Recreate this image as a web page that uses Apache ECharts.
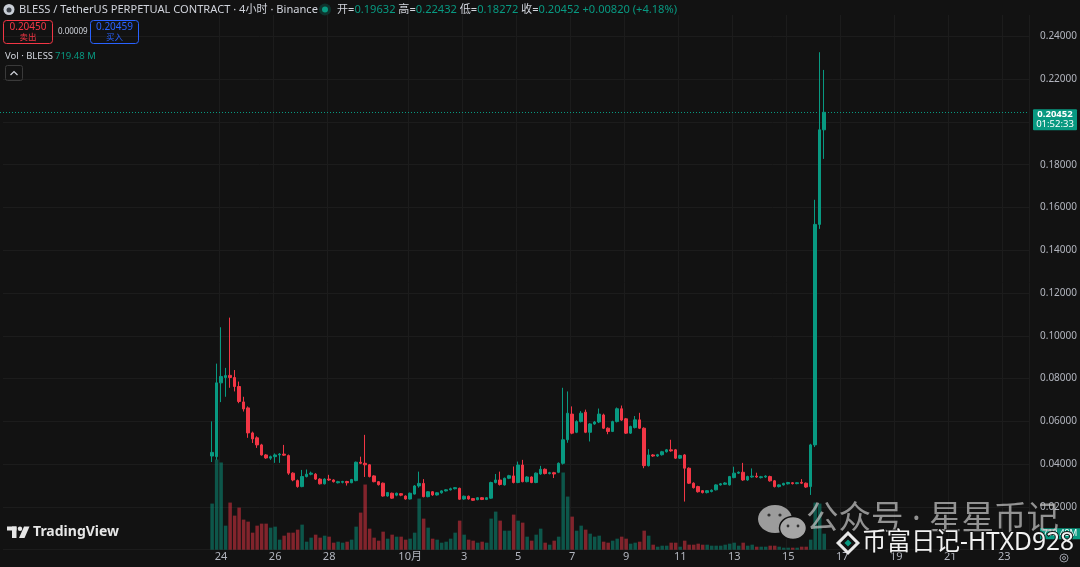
<!DOCTYPE html>
<html>
<head>
<meta charset="utf-8">
<title>BLESS / TetherUS 4小时</title>
<script src="https://cdn.jsdelivr.net/npm/echarts@6/dist/echarts.min.js"></script>
<style>
  html, body { margin: 0; padding: 0; background: #121212; }
  #chart { width: 1080px; height: 567px; }
</style>
</head>
<body>
<div id="chart"></div>
<script>
// BLESS/USDT 永续 4小时 K线，第一根 09-23 16:00
const firstBar = '09-23 16:00'

const opens = [
  0.0438, 0.0435, 0.0780, 0.0805, 0.0815, 0.0805, 0.0763, 0.0691, 0.0663, 0.0546,
  0.0523, 0.0490, 0.0443, 0.0428, 0.0435, 0.0443, 0.0447, 0.0440, 0.0358, 0.0323,
  0.0295, 0.0342, 0.0353, 0.0353, 0.0330, 0.0308, 0.0330, 0.0326, 0.0313, 0.0315,
  0.0319, 0.0313, 0.0323, 0.0409, 0.0404, 0.0397, 0.0345, 0.0318, 0.0311, 0.0251,
  0.0264, 0.0255, 0.0262, 0.0251, 0.0237, 0.0260, 0.0298, 0.0310, 0.0248, 0.0271,
  0.0256, 0.0266, 0.0275, 0.0280, 0.0285, 0.0287, 0.0237, 0.0250, 0.0239, 0.0234,
  0.0243, 0.0235, 0.0241, 0.0314, 0.0326, 0.0303, 0.0334, 0.0345, 0.0314, 0.0396,
  0.0318, 0.0340, 0.0314, 0.0354, 0.0376, 0.0356, 0.0360, 0.0362, 0.0404, 0.0514,
  0.0634, 0.0549, 0.0599, 0.0643, 0.0549, 0.0588, 0.0597, 0.0630, 0.0568, 0.0553,
  0.0599, 0.0659, 0.0612, 0.0545, 0.0571, 0.0607, 0.0568, 0.0393, 0.0443, 0.0438,
  0.0444, 0.0458, 0.0467, 0.0467, 0.0428, 0.0443, 0.0381, 0.0311, 0.0295, 0.0276,
  0.0267, 0.0272, 0.0280, 0.0303, 0.0306, 0.0303, 0.0337, 0.0358, 0.0362, 0.0326,
  0.0340, 0.0344, 0.0337, 0.0340, 0.0342, 0.0322, 0.0295, 0.0303, 0.0308, 0.0313,
  0.0309, 0.0315, 0.0311, 0.0295, 0.0490, 0.1521, 0.19632
]
const closes = [
  0.0455, 0.0780, 0.0810, 0.0814, 0.0805, 0.0763, 0.0693, 0.0658, 0.0546, 0.0518,
  0.0490, 0.0443, 0.0429, 0.0435, 0.0443, 0.0447, 0.0442, 0.0358, 0.0326, 0.0295,
  0.0342, 0.0353, 0.0358, 0.0330, 0.0308, 0.0330, 0.0326, 0.0318, 0.0318, 0.0319,
  0.0313, 0.0328, 0.0409, 0.0404, 0.0397, 0.0342, 0.0318, 0.0304, 0.0251, 0.0267,
  0.0241, 0.0264, 0.0255, 0.0237, 0.0264, 0.0298, 0.0310, 0.0248, 0.0271, 0.0256,
  0.0266, 0.0275, 0.0280, 0.0285, 0.0290, 0.0236, 0.0250, 0.0237, 0.0231, 0.0243,
  0.0235, 0.0243, 0.0314, 0.0326, 0.0305, 0.0334, 0.0346, 0.0314, 0.0396, 0.0318,
  0.0340, 0.0314, 0.0358, 0.0376, 0.0356, 0.0360, 0.0354, 0.0404, 0.0514, 0.0638,
  0.0545, 0.0599, 0.0638, 0.0549, 0.0588, 0.0597, 0.0634, 0.0568, 0.0553, 0.0599,
  0.0659, 0.0606, 0.0545, 0.0576, 0.0607, 0.0568, 0.0393, 0.0443, 0.0438, 0.0444,
  0.0458, 0.0467, 0.0462, 0.0428, 0.0440, 0.0381, 0.0311, 0.0290, 0.0271, 0.0267,
  0.0276, 0.0278, 0.0303, 0.0308, 0.0312, 0.0342, 0.0358, 0.0362, 0.0326, 0.0342,
  0.0344, 0.0340, 0.0341, 0.0344, 0.0322, 0.0295, 0.0303, 0.0310, 0.0314, 0.0309,
  0.0313, 0.0311, 0.0293, 0.0490, 0.1521, 0.19632, 0.20452
]
const lows = [
  0.0410, 0.0420, 0.0690, 0.0715, 0.0757, 0.0740, 0.0685, 0.0646, 0.0523, 0.0499,
  0.0476, 0.0440, 0.0425, 0.0420, 0.0406, 0.0406, 0.0438, 0.0350, 0.0320, 0.0290,
  0.0292, 0.0338, 0.0348, 0.0326, 0.0305, 0.0305, 0.0322, 0.0314, 0.0310, 0.0310,
  0.0300, 0.0311, 0.0320, 0.0400, 0.0340, 0.0338, 0.0315, 0.0300, 0.0248, 0.0248,
  0.0238, 0.0250, 0.0250, 0.0234, 0.0235, 0.0258, 0.0290, 0.0245, 0.0245, 0.0252,
  0.0253, 0.0262, 0.0272, 0.0277, 0.0282, 0.0233, 0.0234, 0.0234, 0.0228, 0.0231,
  0.0232, 0.0232, 0.0238, 0.0310, 0.0300, 0.0300, 0.0330, 0.0310, 0.0311, 0.0315,
  0.0315, 0.0311, 0.0311, 0.0350, 0.0352, 0.0352, 0.0335, 0.0358, 0.0398, 0.0500,
  0.0540, 0.0545, 0.0595, 0.0545, 0.0506, 0.0584, 0.0592, 0.0564, 0.0540, 0.0550,
  0.0595, 0.0602, 0.0541, 0.0541, 0.0567, 0.0564, 0.0381, 0.0389, 0.0434, 0.0434,
  0.0440, 0.0454, 0.0458, 0.0424, 0.0424, 0.0225, 0.0307, 0.0286, 0.0267, 0.0263,
  0.0263, 0.0268, 0.0277, 0.0300, 0.0303, 0.0300, 0.0334, 0.0354, 0.0322, 0.0322,
  0.0336, 0.0336, 0.0333, 0.0336, 0.0318, 0.0291, 0.0291, 0.0300, 0.0305, 0.0305,
  0.0306, 0.0307, 0.0289, 0.0256, 0.0480, 0.1500, 0.18272
]
const highs = [
  0.0600, 0.0870, 0.1040, 0.0850, 0.1085, 0.0840, 0.0786, 0.0715, 0.0670, 0.0552,
  0.0530, 0.0495, 0.0447, 0.0440, 0.0450, 0.0452, 0.0490, 0.0445, 0.0362, 0.0328,
  0.0373, 0.0375, 0.0365, 0.0358, 0.0334, 0.0334, 0.0350, 0.0329, 0.0322, 0.0322,
  0.0322, 0.0331, 0.0412, 0.0435, 0.0537, 0.0400, 0.0348, 0.0321, 0.0314, 0.0270,
  0.0267, 0.0267, 0.0265, 0.0254, 0.0267, 0.0302, 0.0365, 0.0330, 0.0274, 0.0274,
  0.0269, 0.0278, 0.0283, 0.0290, 0.0293, 0.0290, 0.0253, 0.0253, 0.0242, 0.0246,
  0.0246, 0.0246, 0.0318, 0.0354, 0.0365, 0.0337, 0.0350, 0.0389, 0.0412, 0.0420,
  0.0344, 0.0343, 0.0361, 0.0392, 0.0380, 0.0364, 0.0364, 0.0408, 0.0757, 0.0740,
  0.0670, 0.0605, 0.0648, 0.0655, 0.0592, 0.0602, 0.0660, 0.0636, 0.0572, 0.0603,
  0.0665, 0.0674, 0.0616, 0.0580, 0.0625, 0.0640, 0.0572, 0.0470, 0.0447, 0.0448,
  0.0462, 0.0471, 0.0514, 0.0471, 0.0444, 0.0447, 0.0385, 0.0315, 0.0299, 0.0279,
  0.0279, 0.0282, 0.0306, 0.0312, 0.0316, 0.0345, 0.0388, 0.0366, 0.0406, 0.0346,
  0.0380, 0.0360, 0.0345, 0.0348, 0.0346, 0.0326, 0.0306, 0.0313, 0.0317, 0.0316,
  0.0316, 0.0330, 0.0314, 0.0495, 0.1636, 0.2326, 0.22432
]
// 成交量，单位 M
const volumes = [
  2070, 4050, 3915, 1080, 2115, 1530, 1890, 1350, 1260, 765,
  1080, 1170, 1170, 990, 1035, 450, 630, 765, 765, 900,
  1125, 360, 540, 675, 540, 630, 585, 315, 360, 315,
  360, 450, 1035, 1665, 2925, 945, 540, 405, 810, 495,
  675, 585, 585, 450, 495, 765, 2295, 1395, 990, 495,
  450, 315, 360, 495, 765, 1305, 675, 450, 405, 315,
  360, 315, 1395, 1710, 1305, 855, 855, 1575, 1305, 1215,
  585, 405, 675, 945, 315, 225, 405, 585, 3465, 2385,
  1485, 855, 1080, 900, 720, 585, 630, 360, 315, 405,
  495, 585, 495, 270, 315, 360, 855, 630, 225, 135,
  180, 180, 315, 315, 135, 405, 225, 225, 270, 225,
  225, 180, 180, 180, 225, 270, 315, 180, 315, 180,
  225, 135, 135, 135, 180, 180, 135, 90, 90, 90,
  90, 135, 135, 450, 2115, 2070, 719.48
]

const tickDays = ['09-24', '09-26', '09-28', '10-01', '10-03', '10-05', '10-07', '10-09',
  '10-11', '10-13', '10-15', '10-17', '10-19', '10-21', '10-23']
const tickLabels = ['24', '26', '28', '10月', '3', '5', '7', '9', '11', '13', '15', '17', '19', '21', '23']

const bidPrice = '0.20450'
const askPrice = '0.20459'
const spread = '0.00009'
const countdown = '01:52:33'

const UP = '#089981'
const DOWN = '#f23645'
const TEXT = '#d1d4dc'
const AXIS_TEXT = '#b2b5be'
const FONT = '"Noto Sans", "Noto Sans CJK SC", sans-serif'

const pad = n => (n < 10 ? '0' : '') + n

// 4小时一格，09-16 00:00 到 10-23 20:00
const categories = []
for (let t = Date.UTC(2025, 8, 16); t <= Date.UTC(2025, 9, 23, 20); t += 4 * 3600 * 1000) {
  const d = new Date(t)
  categories.push(pad(d.getUTCMonth() + 1) + '-' + pad(d.getUTCDate()) + ' ' + pad(d.getUTCHours()) + ':00')
}
const startIdx = categories.indexOf(firstBar)

const candleData = categories.map((c, k) => {
  const i = k - startIdx
  if (i < 0 || i >= opens.length) return ['-', '-', '-', '-']
  return [opens[i], closes[i], lows[i], highs[i]]
})
const volumeData = categories.map((c, k) => {
  const i = k - startIdx
  if (i < 0 || i >= opens.length) return '-'
  return {
    value: volumes[i],
    itemStyle: { color: closes[i] >= opens[i] ? 'rgba(8,153,129,0.5)' : 'rgba(242,54,69,0.5)' }
  }
})

const last = opens.length - 1
const lastClose = closes[last]
const prevClose = closes[last - 1]
const change = lastClose - prevClose
const changePct = change / prevClose * 100

const isDayTick = (idx, name) => name.slice(6) === '00:00' && tickDays.indexOf(name.slice(0, 5)) >= 0

const chart = echarts.init(document.getElementById('chart'))

const option = {
  backgroundColor: '#121212',
  animation: false,
  grid: { left: 2.84, right: 50, top: 15, bottom: 17.3 },
  xAxis: {
    type: 'category',
    data: categories,
    boundaryGap: true,
    axisLine: { show: false },
    axisTick: { show: false },
    axisLabel: {
      color: AXIS_TEXT,
      fontFamily: FONT,
      fontSize: 11,
      margin: 2,
      interval: isDayTick,
      formatter: name => tickLabels[tickDays.indexOf(name.slice(0, 5))]
    },
    splitLine: {
      show: true,
      interval: isDayTick,
      lineStyle: { color: '#1c1c1c' }
    }
  },
  yAxis: [
    {
      type: 'value',
      position: 'right',
      min: 0,
      max: 0.25,
      interval: 0.02,
      axisLine: { show: false },
      axisTick: { show: false },
      axisLabel: {
        color: AXIS_TEXT,
        fontFamily: FONT,
        fontSize: 10,
        margin: 11,
        formatter: v => {
          // 0 和被现价标签挡住的刻度不显示
          if (v <= 0 || v > 0.245 || Math.abs(v - lastClose) < 0.008) return ''
          return v.toFixed(5)
        }
      },
      splitLine: {
        show: true,
        showMaxLine: false,
        lineStyle: { color: '#1c1c1c' }
      }
    },
    {
      type: 'value',
      min: 0,
      max: 24000,
      show: false
    }
  ],
  series: [
    {
      name: 'Vol',
      type: 'bar',
      yAxisIndex: 1,
      barWidth: '78%',
      data: volumeData,
      z: 1
    },
    {
      name: 'BLESS',
      type: 'candlestick',
      barWidth: 3,
      data: candleData,
      itemStyle: {
        color: UP,
        color0: DOWN,
        borderColor: UP,
        borderColor0: DOWN,
        borderWidth: 1
      },
      z: 2
    }
  ]
}

chart.setOption(option)

// 现价线、现价和成交量标签、顶部信息栏
const py = chart.convertToPixel({ yAxisIndex: 0 }, lastClose)
const vy = chart.convertToPixel({ yAxisIndex: 1 }, volumes[last])
const gridRight = chart.convertToPixel({ xAxisIndex: 0 }, categories[categories.length - 1]) + 2.3

const text = (x, y, str, fill, size, extra) => ({
  type: 'text',
  x: x,
  y: y,
  z: 100,
  style: Object.assign({
    text: str,
    fill: fill,
    font: size + 'px ' + FONT,
    align: 'left',
    verticalAlign: 'middle'
  }, extra || {})
})

const graphics = [
  { type: 'line', z: 50, shape: { x1: 0, y1: Math.round(py) + 0.5, x2: gridRight, y2: Math.round(py) + 0.5 }, style: { stroke: UP, lineWidth: 1, lineDash: [1, 2] } },

  // 币种图标
  { type: 'circle', z: 100, shape: { cx: 9, cy: 9.5, r: 5.5 }, style: { fill: '#c9ced6' } },
  { type: 'circle', z: 100, shape: { cx: 9, cy: 10, r: 2.5 }, style: { fill: '#3a3f47' } },
  text(19, 9.5, 'BLESS / TetherUS PERPETUAL CONTRACT · 4小时 · Binance', TEXT, 11.1),
  { type: 'circle', z: 100, shape: { cx: 325, cy: 9.5, r: 6 }, style: { fill: 'rgba(8,153,129,0.25)' } },
  { type: 'circle', z: 100, shape: { cx: 325, cy: 9.5, r: 3 }, style: { fill: UP } },
  text(337, 9.5,
    '{k|开=}{v|' + opens[last].toFixed(5) + '} {k|高=}{v|' + highs[last].toFixed(5) +
    '} {k|低=}{v|' + lows[last].toFixed(5) + '} {k|收=}{v|' + lastClose.toFixed(5) +
    '} {v|' + (change >= 0 ? '+' : '') + change.toFixed(5) + ' (' + (change >= 0 ? '+' : '') + changePct.toFixed(2) + '%)}',
    TEXT, 11.1, {
      rich: {
        k: { fill: TEXT, font: '11.1px ' + FONT },
        v: { fill: UP, font: '11.1px ' + FONT }
      }
    }),

  // 卖出 / 买入
  { type: 'rect', z: 100, shape: { x: 3.5, y: 20.5, width: 49, height: 23, r: 3 }, style: { fill: 'none', stroke: DOWN, lineWidth: 1 } },
  text(28, 27, bidPrice, DOWN, 10, { align: 'center' }),
  text(28, 38, '卖出', DOWN, 8.5, { align: 'center' }),
  text(58, 32, spread, TEXT, 8),
  { type: 'rect', z: 100, shape: { x: 90.5, y: 20.5, width: 48, height: 23, r: 3 }, style: { fill: 'none', stroke: '#2962ff', lineWidth: 1 } },
  text(114.5, 27, askPrice, '#2962ff', 10, { align: 'center' }),
  text(114.5, 38, '买入', '#2962ff', 8.5, { align: 'center' }),

  text(5, 56, 'Vol · BLESS', TEXT, 9.5),
  text(55, 56, (volumes[last]).toFixed(2) + ' M', UP, 9.5),
  { type: 'rect', z: 100, shape: { x: 5.5, y: 65.5, width: 17, height: 15, r: 2 }, style: { fill: 'none', stroke: '#3a3a3a', lineWidth: 1 } },
  { type: 'polyline', z: 100, shape: { points: [[10.5, 75], [14, 71.5], [17.5, 75]] }, style: { stroke: TEXT, lineWidth: 1.2, fill: 'none' } },

  // 现价标签
  { type: 'rect', z: 100, shape: { x: 1033, y: py - 3, width: 44, height: 21, r: 1 }, style: { fill: UP } },
  text(1055, py + 2.5, lastClose.toFixed(5), '#ffffff', 9.5, { align: 'center', font: 'bold 9.5px ' + FONT }),
  text(1055, py + 12.5, countdown, '#ffffff', 9.5, { align: 'center' }),

  // 成交量标签
  { type: 'rect', z: 100, shape: { x: 1040, y: vy - 5.5, width: 40, height: 11 }, style: { fill: UP } },
  text(1060, vy, volumes[last].toFixed(2) + 'M', '#ffffff', 8.5, { align: 'center' }),

  // 设置图标
  { type: 'circle', z: 100, shape: { cx: 1064, cy: 558, r: 4 }, style: { fill: 'none', stroke: '#9598a1', lineWidth: 1 } },
  { type: 'circle', z: 100, shape: { cx: 1064, cy: 558, r: 1.5 }, style: { fill: 'none', stroke: '#9598a1', lineWidth: 1 } },

  // TradingView 标志
  { type: 'rect', z: 100, shape: { x: 7, y: 526.5, width: 9.5, height: 4 }, style: { fill: '#e6e6e6' } },
  { type: 'rect', z: 100, shape: { x: 12, y: 526.5, width: 4.5, height: 11.5 }, style: { fill: '#e6e6e6' } },
  { type: 'circle', z: 100, shape: { cx: 20, cy: 528.8, r: 2.2 }, style: { fill: '#e6e6e6' } },
  { type: 'polygon', z: 100, shape: { points: [[24, 526.5], [29.5, 526.5], [24.5, 538], [19, 538]] }, style: { fill: '#e6e6e6' } },
  text(33, 532.5, 'TradingView', '#e6e6e6', 14, { font: 'bold 14px ' + FONT }),

  // 水印
  { type: 'ellipse', z: 100, shape: { cx: 775, cy: 519, rx: 17, ry: 14 }, style: { fill: '#9c9c9c' } },
  { type: 'ellipse', z: 100, shape: { cx: 793, cy: 528, rx: 13.5, ry: 11.5 }, style: { fill: '#a6a6a6', stroke: '#121212', lineWidth: 1.5 } },
  { type: 'circle', z: 100, shape: { cx: 769, cy: 515, r: 1.6 }, style: { fill: '#333' } },
  { type: 'circle', z: 100, shape: { cx: 780, cy: 515, r: 1.6 }, style: { fill: '#333' } },
  { type: 'circle', z: 100, shape: { cx: 788, cy: 526, r: 1.4 }, style: { fill: '#333' } },
  { type: 'circle', z: 100, shape: { cx: 798, cy: 526, r: 1.4 }, style: { fill: '#333' } },
  text(806, 520, '公众号 · 星星币记', 'rgba(190,190,190,0.75)', 32.5),
  { type: 'rect', z: 100, x: 848, y: 543, rotation: Math.PI / 4, shape: { x: -7, y: -7, width: 14, height: 14 }, style: { fill: 'none', stroke: '#e8e8e8', lineWidth: 3 } },
  { type: 'rect', z: 100, x: 848, y: 543, rotation: Math.PI / 4, shape: { x: -2.5, y: -2.5, width: 5, height: 5 }, style: { fill: UP } },
  text(862, 543, '币富日记-HTXD928', '#f2f2f2', 24.5, { stroke: '#121212', lineWidth: 2 })
]

chart.setOption({ graphic: graphics })
</script>
</body>
</html>
